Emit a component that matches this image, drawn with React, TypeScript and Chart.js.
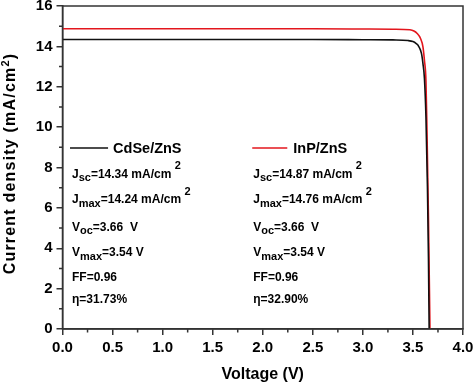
import React, { useEffect, useRef } from "react";
import { Chart, registerables } from "chart.js";

Chart.register(...registerables);

// ---- data ----
const cdseVoltage = [0, 0.5, 1.0, 1.5, 2.0, 2.5, 3.0, 3.3, 3.45, 3.5, 3.53, 3.56, 3.585, 3.6, 3.615, 3.63, 3.645, 3.655, 3.662];
const cdseCurrent = [14.34, 14.34, 14.34, 14.34, 14.34, 14.34, 14.33, 14.32, 14.29, 14.24, 14.15, 13.98, 13.65, 13.15, 12.4, 10.5, 7.0, 3.5, 0];
const inpVoltage = [0, 0.5, 1.0, 1.5, 2.0, 2.5, 3.0, 3.3, 3.47, 3.51, 3.54, 3.575, 3.6, 3.615, 3.63, 3.64, 3.655, 3.67];
const inpCurrent = [14.87, 14.87, 14.87, 14.87, 14.87, 14.87, 14.86, 14.85, 14.82, 14.76, 14.65, 14.4, 13.98, 13.3, 12.3, 9.9, 5.5, 0];

const seriesNames = ["CdSe/ZnS", "InP/ZnS"];
const seriesColors = ["#111111", "#e3161d"];

// stats text: [base, subscript, rest, superscript]
const cdseStats = [
  ["J", "sc", "=14.34 mA/cm", "2"],
  ["J", "max", "=14.24 mA/cm", "2"],
  ["V", "oc", "=3.66  V", ""],
  ["V", "max", "=3.54 V", ""],
  ["FF=0.96", "", "", ""],
  ["η=31.73%", "", "", ""],
];
const inpStats = [
  ["J", "sc", "=14.87 mA/cm", "2"],
  ["J", "max", "=14.76 mA/cm", "2"],
  ["V", "oc", "=3.66  V", ""],
  ["V", "max", "=3.54 V", ""],
  ["FF=0.96", "", "", ""],
  ["η=32.90%", "", "", ""],
];
// positions in data units
const legendRowY = 8.96;
const statRowsY = [7.71, 6.44, 5.09, 3.81, 2.59, 1.49];
const columnsX = [0.095, 1.905];
const legendLineX = [[0.075, 0.455], [1.895, 2.245]];
const legendTextX = [0.505, 2.305];

const xTicks = [0, 0.5, 1.0, 1.5, 2.0, 2.5, 3.0, 3.5, 4.0];
const yTicks = [0, 2, 4, 6, 8, 10, 12, 14, 16];

const FONT = "'Liberation Sans', Arial, Helvetica, sans-serif";
const AXIS = "#333333";

function drawParts(ctx: CanvasRenderingContext2D, x: number, y: number, parts: { t: string; size: number; dy: number }[]) {
  let cx = x;
  for (const p of parts) {
    if (!p.t) continue;
    ctx.font = `bold ${p.size}px ${FONT}`;
    ctx.fillText(p.t, cx, y + p.dy);
    cx += ctx.measureText(p.t).width;
  }
}

const overlayPlugin = {
  id: "overlay",
  afterDraw(chart: any) {
    const ctx: CanvasRenderingContext2D = chart.ctx;
    const { left, right, top, bottom } = chart.chartArea;
    const xs = chart.scales.x;
    const ys = chart.scales.y;
    ctx.save();
    // frame
    ctx.strokeStyle = AXIS;
    ctx.lineWidth = 1.5;
    ctx.strokeRect(left, top, right - left, bottom - top);
    // minor ticks
    ctx.beginPath();
    for (let i = 0; i < xTicks.length - 1; i++) {
      const px = xs.getPixelForValue((xTicks[i] + xTicks[i + 1]) / 2);
      ctx.moveTo(px, bottom);
      ctx.lineTo(px, bottom + 3.5);
    }
    for (let i = 0; i < yTicks.length - 1; i++) {
      const py = ys.getPixelForValue((yTicks[i] + yTicks[i + 1]) / 2);
      ctx.moveTo(left, py);
      ctx.lineTo(left - 3.5, py);
    }
    ctx.stroke();

    // legend
    ctx.fillStyle = "#000";
    ctx.textBaseline = "middle";
    for (let s = 0; s < 2; s++) {
      const ly = ys.getPixelForValue(legendRowY);
      ctx.strokeStyle = seriesColors[s];
      ctx.lineWidth = 1.5;
      ctx.beginPath();
      ctx.moveTo(xs.getPixelForValue(legendLineX[s][0]), ly);
      ctx.lineTo(xs.getPixelForValue(legendLineX[s][1]), ly);
      ctx.stroke();
      ctx.font = `bold 14.5px ${FONT}`;
      ctx.fillText(seriesNames[s], xs.getPixelForValue(legendTextX[s]), ly + 1);
    }
    // stats
    ctx.textBaseline = "alphabetic";
    [cdseStats, inpStats].forEach((rows, s) => {
      const x0 = xs.getPixelForValue(columnsX[s]);
      rows.forEach((r, i) => {
        const yb = ys.getPixelForValue(statRowsY[i]) + 4.3;
        drawParts(ctx, x0, yb, [
          { t: r[0], size: 12, dy: 0 },
          { t: r[1], size: 11, dy: 3.5 },
          { t: r[2], size: 12, dy: 0 },
          { t: r[3] ? " " : "", size: 12, dy: 0 },
          { t: r[3], size: 11, dy: -8.5 },
        ]);
      });
    });

    // y title
    ctx.translate(11, (top + bottom) / 2 - 4);
    ctx.rotate(-Math.PI / 2);
    ctx.textBaseline = "middle";
    (ctx as any).letterSpacing = "1.2px";
    const parts = [
      { t: "Current density (mA/cm", size: 16, dy: 0 },
      { t: "2", size: 11, dy: -5 },
      { t: ")", size: 16, dy: 0 },
    ];
    let w = 0;
    for (const p of parts) {
      ctx.font = `bold ${p.size}px ${FONT}`;
      w += ctx.measureText(p.t).width;
    }
    drawParts(ctx, -w / 2, 0, parts);
    ctx.restore();
  },
};

function zeroPad(s: any) {
  s.paddingLeft = 0;
  s.paddingRight = 0;
  s.paddingTop = 0;
  s.paddingBottom = 0;
}

export default function App() {
  const ref = useRef<HTMLCanvasElement | null>(null);
  useEffect(() => {
    if (!ref.current) return;
    const chart = new Chart(ref.current, {
      type: "scatter",
      data: {
        datasets: [
          {
            label: seriesNames[0],
            data: cdseVoltage.map((v, i) => ({ x: v, y: cdseCurrent[i] })),
            borderColor: seriesColors[0],
            backgroundColor: seriesColors[0],
            showLine: true,
            pointRadius: 0,
            borderWidth: 1.6,
            cubicInterpolationMode: "monotone",
          },
          {
            label: seriesNames[1],
            data: inpVoltage.map((v, i) => ({ x: v, y: inpCurrent[i] })),
            borderColor: seriesColors[1],
            backgroundColor: seriesColors[1],
            showLine: true,
            pointRadius: 0,
            borderWidth: 1.6,
            cubicInterpolationMode: "monotone",
          },
        ],
      },
      options: {
        animation: false,
        responsive: true,
        maintainAspectRatio: false,
        layout: { autoPadding: false, padding: { top: 6, right: 11, left: 0, bottom: 0 } } as any,
        plugins: { legend: { display: false }, tooltip: { enabled: false } },
        scales: {
          x: {
            type: "linear",
            min: 0,
            max: 4,
            afterFit: (s: any) => { s.height = 56; zeroPad(s); },
            afterBuildTicks: (s: any) => { s.ticks = xTicks.map((v) => ({ value: v })); },
            ticks: {
              callback: (v: any) => Number(v).toFixed(1),
              font: { family: FONT, size: 15, weight: "bold" },
              color: "#000",
              padding: 4,
              maxRotation: 0,
              autoSkip: false,
            },
            grid: { drawOnChartArea: false, drawTicks: true, tickLength: 6, color: AXIS, lineWidth: 1.5 },
            border: { display: true, color: AXIS, width: 1.5 },
            title: {
              display: true,
              text: "Voltage (V)",
              font: { family: FONT, size: 16, weight: "bold" },
              color: "#000",
              padding: { top: 4, bottom: 1 },
            },
          },
          y: {
            type: "linear",
            min: 0,
            max: 16,
            afterFit: (s: any) => { s.width = 62.5; zeroPad(s); },
            afterBuildTicks: (s: any) => { s.ticks = yTicks.map((v) => ({ value: v })); },
            ticks: {
              callback: (v: any) => String(v),
              font: { family: FONT, size: 15, weight: "bold" },
              color: "#000",
              padding: 4,
              autoSkip: false,
            },
            grid: { drawOnChartArea: false, drawTicks: true, tickLength: 6, color: AXIS, lineWidth: 1.5 },
            border: { display: true, color: AXIS, width: 1.5 },
          },
        },
      },
      plugins: [overlayPlugin],
    } as any);
    return () => chart.destroy();
  }, []);
  return (
    <div style={{ position: "absolute", left: 0, top: 0, width: 474, height: 385, background: "#fff" }}>
      <canvas ref={ref} />
    </div>
  );
}
